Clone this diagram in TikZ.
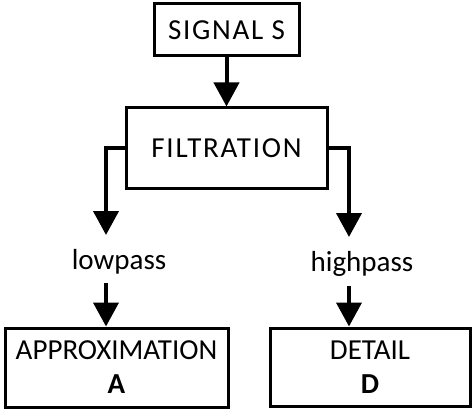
\documentclass[tikz,border=0pt]{standalone}
\usepackage{fontspec}
\setmainfont{Carlito}
\usetikzlibrary{arrows.meta,calc}
\begin{document}
\begin{tikzpicture}[x=1pt,y=-1pt,
  box/.style={draw,line width=3pt,rectangle,inner sep=0pt,align=center,font=\fontsize{29}{34}\selectfont},
  wide/.style={font=\fontsize{29}{34}\selectfont\addfontfeature{LetterSpace=6}},
  lbl/.style={inner sep=0pt,font=\fontsize{29}{34}\selectfont},
  conn/.style={line width=4pt,-{Triangle[width=25pt,length=24pt]}},
  seg/.style={line width=4pt}]
\useasboundingbox (0,0) rectangle (474,409);
\node[box,wide,minimum width=145pt,minimum height=52pt] (sig) at (226.5,30) {SIGNAL S};
\node[box,wide,minimum width=201pt,minimum height=80pt] (filt) at (226.5,148) {FILTRATION};
\node[box,minimum width=223pt,minimum height=79pt] (approx) at (116.5,367.5) {APPROXIMATION\\\textbf{A}};
\node[box,minimum width=200pt,minimum height=78pt] (det) at (370,367) {DETAIL\\\textbf{D}};
\node[lbl] (low) at (119,262) {lowpass};
\node[lbl] (high) at (362,264) {highpass};
\coordinate (lowtip) at (106,235);
\coordinate (lowstart) at (106,283);
\coordinate (hightip) at (349,237);
\coordinate (highstart) at (349,286);
\draw[conn] (sig.south) -- (filt.north);
\draw[conn] (filt.west) -| (lowtip);
\draw[conn] (filt.east) -| (hightip);
\draw[conn] (lowstart) -- (lowstart |- approx.north);
\draw[conn] (highstart) -- (highstart |- det.north);
\end{tikzpicture}
\end{document}
